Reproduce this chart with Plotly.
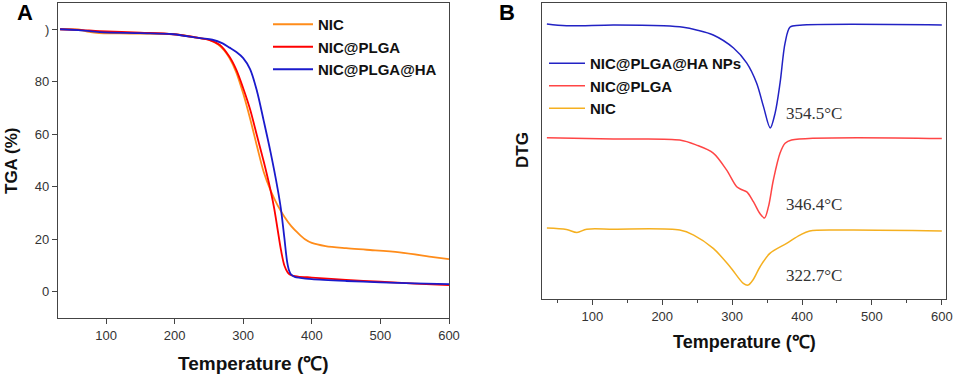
import plotly.graph_objects as go

# ---------- Panel A: TGA ----------
tga_nic_T = [33, 60, 75, 90, 120, 200, 237, 250, 263, 272, 280, 290, 300, 310, 320, 330, 340, 350, 360, 370, 380, 390, 400, 420, 450, 480, 528, 577, 600]
tga_nic_v = [100, 99.9, 99.0, 98.5, 98.4, 98.1, 96.6, 96.0, 94.3, 92.0, 89.0, 83.5, 75.5, 66.0, 55.5, 45.5, 38.5, 33.0, 28.6, 25.0, 22.3, 20.0, 18.6, 17.4, 16.6, 16.0, 15.0, 13.2, 12.4]

tga_plga_T = [33, 60, 91, 150, 198, 237, 252, 266, 280, 290, 300, 310, 320, 330, 340, 345, 350, 355, 360, 365, 370, 380, 400, 450, 500, 550, 600]
tga_plga_v = [100, 99.8, 99.3, 98.7, 98.1, 96.6, 95.8, 94.0, 89.5, 84.5, 77.5, 69.5, 59.5, 49.5, 38.5, 32.0, 24.0, 16.0, 10.0, 7.3, 6.3, 5.8, 5.4, 4.5, 3.8, 3.1, 2.5]

tga_ha_T = [33, 60, 91, 150, 198, 237, 255, 270, 280, 290, 300, 310, 320, 330, 340, 350, 355, 360, 364, 367, 370, 375, 383, 400, 450, 500, 550, 600]
tga_ha_v = [100, 99.7, 98.9, 98.5, 98.1, 96.6, 96.0, 94.6, 93.0, 91.3, 89.0, 84.8, 76.5, 65.0, 53.0, 39.5, 31.5, 20.5, 11.5, 8.0, 6.5, 5.7, 5.3, 4.8, 4.1, 3.6, 3.2, 2.9]

tga_yticks = [0, 20, 40, 60, 80, 100]
tga_yticktext = ["0", "20", "40", "60", "80", ")"]
x_ticks = [100, 200, 300, 400, 500, 600]

# ---------- Panel B: DTG (arbitrary units) ----------
dtg_ha_T = [35, 63, 130, 202, 230, 249, 273, 302, 321, 335, 345, 354.5, 361.5, 368.6, 375.8, 383, 397, 600]
dtg_ha_v = [92.9, 92.3, 92.6, 92.3, 91.8, 90.9, 89.2, 84.8, 79.7, 73.0, 64.9, 57.8, 62.8, 73.0, 86.5, 91.9, 92.5, 92.6]

dtg_plga_T = [35, 130, 225, 249, 273, 292, 306.6, 314, 321, 330.4, 340, 346.4, 352, 359, 368.6, 375.8, 385, 600]
dtg_plga_v = [54.5, 54.05, 53.7, 52.0, 49.3, 43.6, 37.9, 36.9, 36.2, 32.9, 28.8, 27.4, 31.2, 40.2, 49.3, 52.6, 53.7, 54.2]

dtg_nic_T = [35, 63, 78, 92, 130, 225, 245, 273, 297, 316, 322.7, 330, 340, 354, 378, 397, 411, 464, 600]
dtg_nic_v = [24.0, 23.5, 22.5, 23.6, 23.6, 23.3, 21.6, 17.1, 10.9, 5.3, 4.7, 6.5, 10.9, 15.4, 18.8, 21.6, 23.0, 23.3, 23.0]

peak_labels = ["354.5°C", "346.4°C", "322.7°C"]
peak_label_T = [374, 374, 374]
peak_label_v = [62.8, 31.8, 7.8]

fig = go.Figure()

def add(x, y, name, color, xa, ya, legend, width):
    fig.add_trace(go.Scatter(x=x, y=y, name="<b>" + name + "</b>", mode="lines",
                             line=dict(color=color, width=width, shape="spline", smoothing=0.9),
                             xaxis=xa, yaxis=ya, legend=legend))

add(tga_nic_T, tga_nic_v, "NIC", "#FF8C1A", "x", "y", "legend", 1.8)
add(tga_plga_T, tga_plga_v, "NIC@PLGA", "#FF0000", "x", "y", "legend", 1.8)
add(tga_ha_T, tga_ha_v, "NIC@PLGA@HA", "#1A1ACC", "x", "y", "legend", 1.8)

add(dtg_ha_T, dtg_ha_v, "NIC@PLGA@HA NPs", "#2222C4", "x2", "y2", "legend2", 1.5)
add(dtg_plga_T, dtg_plga_v, "NIC@PLGA", "#FF4545", "x2", "y2", "legend2", 1.5)
add(dtg_nic_T, dtg_nic_v, "NIC", "#F5B020", "x2", "y2", "legend2", 1.5)

axis_common = dict(showline=True, linecolor="#444", linewidth=1.3, mirror=True,
                   showgrid=False, zeroline=False, ticks="outside", ticklen=5, automargin=False,
                   tickcolor="#444", tickfont=dict(family="Liberation Sans, Arial", size=13, color="#333"))

fig.update_layout(
    width=955, height=375, autosize=False, margin=dict(l=0, r=0, t=0, b=0, pad=0),
    paper_bgcolor="white", plot_bgcolor="white", showlegend=True,
    xaxis=dict(domain=[58/955, 449/955], range=[30, 600], tickvals=x_ticks, anchor="y", **axis_common),
    yaxis=dict(domain=[1-318/375, 1-3/375], range=[-10, 110], tickvals=tga_yticks, ticktext=tga_yticktext,
               anchor="x", **axis_common),
    xaxis2=dict(domain=[542/955, 946/955], range=[28, 606], tickvals=x_ticks, anchor="y2",
                minor=dict(ticks="outside", ticklen=3, tickcolor="#444", dtick=50, tick0=0), **axis_common),
    yaxis2=dict(domain=[1-299/375, 1-3/375], range=[0, 100], anchor="x2",
                **{**axis_common, "ticks": "", "showticklabels": False}),
    legend=dict(x=268/955, y=1-8/375, xanchor="left", yanchor="top", bgcolor="rgba(0,0,0,0)",
                font=dict(family="Liberation Sans, Arial", size=15, color="#111"),
                itemwidth=40, tracegroupgap=0),
    legend2=dict(x=544/955, y=1-47/375, xanchor="left", yanchor="top", bgcolor="rgba(0,0,0,0)",
                 font=dict(family="Liberation Sans, Arial", size=15, color="#111"),
                 itemwidth=36, tracegroupgap=0),
)

ann = []
for t, tx, v in zip(peak_labels, peak_label_T, peak_label_v):
    ann.append(dict(x=tx, y=v, xref="x2", yref="y2", text=t, showarrow=False, xanchor="left",
                    yanchor="middle", font=dict(family="Liberation Serif, Times New Roman", size=17, color="#333")))

ann += [
    dict(x=253/955, y=1-363/375, xref="paper", yref="paper", text="<b>Temperature (℃)</b>", showarrow=False,
         xanchor="center", yanchor="middle", font=dict(family="Liberation Sans, Arial", size=19, color="#111")),
    dict(x=744/955, y=1-342/375, xref="paper", yref="paper", text="<b>Temperature (℃)</b>", showarrow=False,
         xanchor="center", yanchor="middle", font=dict(family="Liberation Sans, Arial", size=18, color="#111")),
    dict(x=11/955, y=1-161/375, xref="paper", yref="paper", text="<b>TGA (%)</b>", showarrow=False, textangle=-90,
         xanchor="center", yanchor="middle", font=dict(family="Liberation Sans, Arial", size=17, color="#111")),
    dict(x=522/955, y=1-150/375, xref="paper", yref="paper", text="<b>DTG</b>", showarrow=False, textangle=-90,
         xanchor="center", yanchor="middle", font=dict(family="Liberation Sans, Arial", size=17, color="#111")),
    dict(x=25/955, y=1-13/375, xref="paper", yref="paper", text="<b>A</b>", showarrow=False,
         xanchor="center", yanchor="middle", font=dict(family="Liberation Sans, Arial", size=22, color="#000")),
    dict(x=507/955, y=1-13/375, xref="paper", yref="paper", text="<b>B</b>", showarrow=False,
         xanchor="center", yanchor="middle", font=dict(family="Liberation Sans, Arial", size=22, color="#000")),
]
fig.update_layout(annotations=ann)

fig.write_html("out.html", config={"displayModeBar": False, "responsive": False},
               post_script="document.body.style.margin='0';document.body.style.padding='0';"
                           "document.body.style.overflow='hidden';")
